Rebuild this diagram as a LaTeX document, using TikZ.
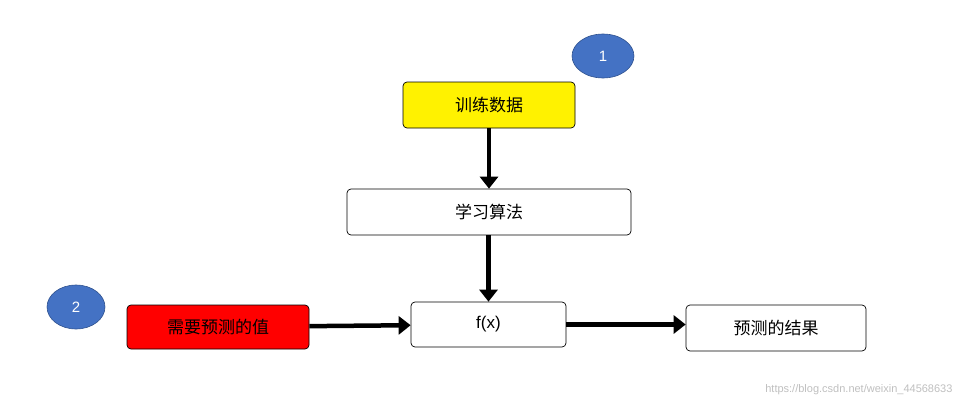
\documentclass[tikz,border=0pt]{standalone}
\usepackage{fontspec}
\setmainfont{Liberation Sans}
\newfontfamily\cjk{Noto Sans CJK SC}
\usetikzlibrary{shapes.geometric,arrows.meta}
\begin{document}
\begin{tikzpicture}[x=1pt,y=-1pt,
  box/.style={draw=black,rounded corners=4pt,line width=0.7pt,font=\cjk\fontsize{17}{20}\selectfont,inner sep=0pt},
  num/.style={ellipse,fill={rgb,255:red,68;green,114;blue,196},draw={rgb,255:red,47;green,82;blue,143},line width=0.6pt,text=white,font=\fontsize{15}{18}\selectfont,minimum width=62pt,minimum height=44pt,inner sep=0pt},
  arr/.style={line width=4.5pt,-{Triangle[length=12pt,width=18pt]}}]
\useasboundingbox (0,0) rectangle (964,410);
\node[box,fill=yellow,minimum width=172pt,minimum height=46pt] (a) at (489,105) {训练数据};
\node[box,fill=white,minimum width=284pt,minimum height=46pt] (b) at (489,212) {学习算法};
\node[box,fill=white,minimum width=155pt,minimum height=45pt,font=\fontsize{17}{20}\selectfont] (c) at (488.5,324.5) {f(x)};
\node[box,fill=red,minimum width=182pt,minimum height=44pt] (d) at (218,327) {需要预测的值};
\node[box,fill=white,minimum width=180pt,minimum height=46pt] (e) at (776,328) {预测的结果};
\node[num] (n1) at (603,56) {1};
\node[num,minimum width=58pt] (n2) at (76,307) {2};
\draw[arr] (a) -- (b);
\draw[arr] (b.south -| c) -- (c);
\draw[arr] (d) -- (c);
\draw[arr] (c.east) -- (e.west |- c.east);
\node[text=black!25,font=\fontsize{11}{13}\selectfont,anchor=east] (w) at (956,390) {https://blog.csdn.net/weixin\_44568633};
\end{tikzpicture}
\end{document}
